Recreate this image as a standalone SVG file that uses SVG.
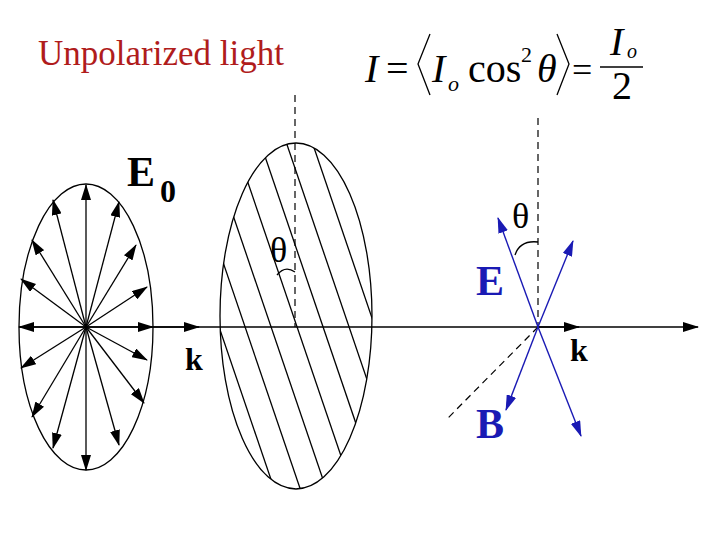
<svg xmlns="http://www.w3.org/2000/svg" width="720" height="540" viewBox="0 0 720 540">
<style>
.ln{stroke:#000;stroke-width:1.3;fill:none}
.bl{stroke:#1a1ab4;stroke-width:1.4;fill:none}
.ds{stroke:#000;stroke-width:1.2;stroke-dasharray:7,5;fill:none}
.t{font-family:"Liberation Serif",serif}
</style>
<defs>
<marker id="a" markerUnits="userSpaceOnUse" markerWidth="16" markerHeight="10" refX="15" refY="5" orient="auto"><path d="M0,0 L16,5 L0,10 z" fill="#000"/></marker>
<marker id="b" markerUnits="userSpaceOnUse" markerWidth="16" markerHeight="10" refX="15" refY="5" orient="auto"><path d="M0,0 L16,5 L0,10 z" fill="#1a1ab4"/></marker>
<clipPath id="cp"><ellipse cx="296" cy="316" rx="76" ry="173"/></clipPath>
</defs>
<rect width="720" height="540" fill="#fff"/>
<text class="t" x="38" y="65" font-size="35" fill="#b01c1c">Unpolarized light</text>
<g id="formula" class="t" font-size="40">
<text x="365" y="82" font-style="italic">I</text>
<text x="386" y="82">=</text>
<polyline class="ln" points="430,34 418,64 430,95"/>
<text x="432" y="82" font-style="italic">I</text>
<text x="448" y="91" font-size="22" font-style="italic">o</text>
<text x="468" y="82">cos</text>
<text x="521" y="62" font-size="22">2</text>
<text x="537" y="82" font-style="italic">θ</text>
<polyline class="ln" points="557,34 569,64 557,95"/>
<text x="572" y="82" font-size="36">=</text>
<text x="610" y="55" font-style="italic">I</text>
<text x="627" y="58" font-size="20" font-style="italic">o</text>
<line x1="600" y1="67" x2="643" y2="67" stroke="#000" stroke-width="1.3"/>
<text x="612" y="99">2</text>
</g>
<g id="connectors">
<line class="ln" x1="19" y1="327" x2="698" y2="327" marker-end="url(#a)"/>
<line class="ln" x1="153" y1="327" x2="199" y2="327" marker-end="url(#a)"/>
<line class="ln" x1="538" y1="327" x2="579" y2="327" marker-end="url(#a)"/>
</g>
<g id="unpolarized">
<ellipse class="ln" cx="86" cy="327" rx="67" ry="143"/>
<g class="ln" marker-end="url(#a)">
<line x1="86" y1="327" x2="86" y2="185"/>
<line x1="86" y1="327" x2="86" y2="470"/>
<line x1="86" y1="327" x2="19" y2="327"/>
<line x1="86" y1="327" x2="153" y2="327"/>
<line x1="86" y1="327" x2="53" y2="200"/>
<line x1="86" y1="327" x2="119" y2="202"/>
<line x1="86" y1="327" x2="32" y2="240"/>
<line x1="86" y1="327" x2="136" y2="245"/>
<line x1="86" y1="327" x2="21" y2="279"/>
<line x1="86" y1="327" x2="147" y2="287"/>
<line x1="86" y1="327" x2="21" y2="368"/>
<line x1="86" y1="327" x2="147" y2="360"/>
<line x1="86" y1="327" x2="32" y2="417"/>
<line x1="86" y1="327" x2="144" y2="403"/>
<line x1="86" y1="327" x2="53" y2="448"/>
<line x1="86" y1="327" x2="119" y2="445"/>
</g>
<text class="t" x="127" y="186" font-size="42" font-weight="bold">E</text>
<text class="t" x="160" y="202" font-size="32" font-weight="bold">0</text>
<text class="t" x="185" y="370" font-size="32" font-weight="bold">k</text>
</g>
<g id="polarizer">
<ellipse class="ln" cx="296" cy="316" rx="76" ry="173"/>
<g class="ln" clip-path="url(#cp)" stroke-width="1.1">
<line x1="100" y1="130" x2="226" y2="500"/>
<line x1="126" y1="130" x2="252" y2="500"/>
<line x1="152" y1="130" x2="278" y2="500"/>
<line x1="178" y1="130" x2="304" y2="500"/>
<line x1="204" y1="130" x2="330" y2="500"/>
<line x1="230" y1="130" x2="356" y2="500"/>
<line x1="256" y1="130" x2="382" y2="500"/>
<line x1="282" y1="130" x2="408" y2="500"/>
<line x1="308" y1="130" x2="434" y2="500"/>
<line x1="334" y1="130" x2="460" y2="500"/>
</g>
<line class="ds" x1="295" y1="95" x2="295" y2="327"/>
<path class="ln" d="M277,275 Q285,265 295,272"/>
<text class="t" x="270" y="262" font-size="36">θ</text>
</g>
<g id="transmitted">
<line class="ds" x1="538" y1="118" x2="538" y2="327"/>
<line class="ds" x1="538" y1="327" x2="448" y2="418"/>
<line class="bl" x1="538" y1="327" x2="498" y2="218" marker-end="url(#b)"/>
<line class="bl" x1="538" y1="327" x2="581" y2="436" marker-end="url(#b)"/>
<line class="bl" x1="538" y1="327" x2="573" y2="241" marker-end="url(#b)"/>
<line class="bl" x1="538" y1="327" x2="506" y2="410" marker-end="url(#b)"/>
<path class="ln" d="M515,255 Q520,240 538,242"/>
<text class="t" x="512" y="228" font-size="36">θ</text>
<text class="t" x="476" y="295" font-size="42" font-weight="bold" fill="#1a1ab4">E</text>
<text class="t" x="476" y="438" font-size="42" font-weight="bold" fill="#1a1ab4">B</text>
<text class="t" x="570" y="361" font-size="32" font-weight="bold">k</text>
</g>
</svg>
